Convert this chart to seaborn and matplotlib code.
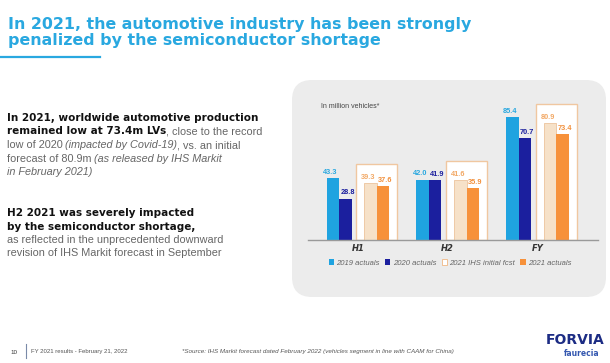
import pandas as pd
import seaborn as sns
import matplotlib.pyplot as plt
from matplotlib.patches import FancyBboxPatch, Patch
from matplotlib.transforms import IdentityTransform

# chart values (million vehicles)
periods = ['H1', 'H2', 'FY']
series = ['2019 actuals', '2020 actuals', '2021 IHS initial fcst', '2021 actuals']
actuals_2019 = [43.3, 42.0, 85.4]
actuals_2020 = [28.8, 41.9, 70.7]
ihs_fcst_2021 = [39.3, 41.6, 80.9]
actuals_2021 = [37.6, 35.9, 73.4]

# colours
BLUE = '#29a8e0'
bar_colors = {'2019 actuals': '#1fa3e0', '2020 actuals': '#1b1f9e', 'gap': 'none',
              '2021 IHS initial fcst': '#f6e1c8', '2021 actuals': '#f7913a'}
label_colors = {'2019 actuals': '#29a8e0', '2020 actuals': '#1b1f9e',
                '2021 IHS initial fcst': '#f2a865', '2021 actuals': '#f2903c'}
# small sideways nudge of the value labels (points) so neighbours don't collide
label_shift = {'2019 actuals': -1.6, '2020 actuals': 1.6,
               '2021 IHS initial fcst': -1.8, '2021 actuals': 1.8}

W, H = 610, 363
plt.rcParams['font.family'] = ['DejaVu Sans']
fig = plt.figure(figsize=(W / 100, H / 100), dpi=100)
fig.patch.set_facecolor('white')

# long-form table, with an empty hue level to leave the gap between 2020 and 2021 bars
hue_order = ['2019 actuals', '2020 actuals', 'gap', '2021 IHS initial fcst', '2021 actuals']
rows = []
for i, p in enumerate(periods):
    rows.append((p, '2019 actuals', actuals_2019[i]))
    rows.append((p, '2020 actuals', actuals_2020[i]))
    rows.append((p, 'gap', 0.0))
    rows.append((p, '2021 IHS initial fcst', ihs_fcst_2021[i]))
    rows.append((p, '2021 actuals', actuals_2021[i]))
df = pd.DataFrame(rows, columns=['Period', 'Series', 'Value'])

# grey rounded panel behind the chart
panel = FancyBboxPatch((292 + 20, H - 297 + 20), 314 - 40, 217 - 40,
                       boxstyle='round,pad=20', transform=IdentityTransform(),
                       facecolor='#ececec', edgecolor='none', zorder=-5)
fig.add_artist(panel)

ax = fig.add_axes([308 / W, 1 - 240 / H, 290 / W, 140 / H])
ax.set_facecolor('none')
sns.barplot(data=df, x='Period', y='Value', hue='Series', order=periods,
            hue_order=hue_order, palette=bar_colors, width=0.7, linewidth=0,
            saturation=1, legend=False, ax=ax)
bar_containers = list(ax.containers)

# outline boxes around the 2021 pairs
for i in range(len(periods)):
    top = max(ihs_fcst_2021[i], actuals_2021[i]) + 13.4
    ax.bar(i + 0.21, top, width=0.46, facecolor='white', edgecolor='#f0c7a0',
           linewidth=1, zorder=1)

for cont, name in zip(bar_containers, hue_order):
    for bar in cont:
        bar.set_zorder(2)
    if name == 'gap':
        continue
    if name == '2021 IHS initial fcst':
        for bar in cont:
            bar.set_edgecolor('#ecc39c')
            bar.set_linewidth(0.6)
    vals = df[df['Series'] == name]['Value'].tolist()
    anns = ax.bar_label(cont, labels=[f'{v:.1f}' for v in vals], padding=1.5,
                        fontsize=5.3, fontweight='bold', family='Liberation Sans',
                        color=label_colors[name])
    for a in anns:
        a.xyann = (label_shift[name], 1.5)

ax.set_xlim(-0.557, 2.674)
ax.set_ylim(0, 97.2)
ax.set_xlabel('')
ax.set_ylabel('')
ax.set_yticks([])
for s in ['top', 'right', 'left']:
    ax.spines[s].set_visible(False)
ax.spines['bottom'].set_color('#9a9a9a')
ax.spines['bottom'].set_linewidth(1)
ax.tick_params(axis='x', length=0, pad=3)
for lab in ax.get_xticklabels():
    lab.set_fontsize(6)
    lab.set_fontweight('bold')
    lab.set_fontstyle('italic')
    lab.set_color('#333333')

handles = [Patch(facecolor='#1fa3e0'), Patch(facecolor='#1b1f9e'),
           Patch(facecolor='white', edgecolor='#f0b884', linewidth=0.6),
           Patch(facecolor='#f7913a')]
ax.legend(handles, series, loc='center', bbox_to_anchor=(450 / W, 1 - 263 / H),
          bbox_transform=fig.transFigure, ncol=4, frameon=False,
          prop={'family': 'Liberation Sans', 'style': 'italic', 'size': 5.5},
          labelcolor='#666666', handlelength=0.7, handleheight=0.7,
          handletextpad=0.3, columnspacing=0.7)

fig.text(321 / W, 1 - 107 / H, 'In million vehicles*', fontsize=5, color='#444444',
         family='Liberation Sans', va='center')

# title
fig.text(8 / W, 1 - 29 / H, 'In 2021, the automotive industry has been strongly',
         fontsize=11.4, fontweight='bold', color=BLUE, va='baseline')
fig.text(8 / W, 1 - 45 / H, 'penalized by the semiconductor shortage',
         fontsize=11.4, fontweight='bold', color=BLUE, va='baseline')
fig.add_artist(plt.Line2D([0, 100 / W], [1 - 57 / H, 1 - 57 / H], color=BLUE,
                          linewidth=1.6, transform=fig.transFigure))

# left paragraph with mixed styles
renderer = fig.canvas.get_renderer()
styles = {
    'b': dict(family='DejaVu Sans', fontweight='bold', color='#111111', fontsize=7.5),
    'n': dict(family='Liberation Sans', color='#666666', fontsize=7.8),
    'i': dict(family='Liberation Sans', style='italic', color='#666666', fontsize=7.8),
}


def put_runs(x, y, parts):
    for txt, st, gap in parts:
        t = fig.text(x / W, 1 - y / H, txt, va='baseline', ha='left', **styles[st])
        x += t.get_window_extent(renderer).width + gap


SP = 2.2
lines = [
    (121, [('In 2021, worldwide automotive production', 'b', 0)]),
    (134.5, [('remained low at 73.4m LVs', 'b', 0), (', close to the record', 'n', 0)]),
    (148, [('low of 2020', 'n', SP), ('(impacted by Covid-19)', 'i', 0), (', vs. an initial', 'n', 0)]),
    (161.5, [('forecast of 80.9m', 'n', SP), ('(as released by IHS Markit', 'i', 0)]),
    (175, [('in February 2021)', 'i', 0)]),
    (216.5, [('H2 2021 was severely impacted', 'b', 0)]),
    (229.5, [('by the semiconductor shortage,', 'b', 0)]),
    (243, [('as reflected in the unprecedented downward', 'n', 0)]),
    (256, [('revision of IHS Markit forecast in September', 'n', 0)]),
]
for y, parts in lines:
    put_runs(7, y, parts)

# footer
fig.text(10 / W, 1 - 352 / H, '10', fontsize=4.5, color='#333333', va='center',
         family='Liberation Sans')
fig.add_artist(plt.Line2D([26 / W, 26 / W], [1 - 344 / H, 1 - 358 / H], color='#7a8aa8',
                          linewidth=0.8, transform=fig.transFigure))
fig.text(31 / W, 1 - 352 / H, 'FY 2021 results - February 21, 2022', fontsize=4.3,
         color='#555555', va='center', family='Liberation Sans')
fig.text(182 / W, 1 - 352 / H,
         '*Source: IHS Markit forecast dated February 2022 (vehicles segment in line with CAAM for China)',
         fontsize=4.5, color='#555555', va='center', family='Liberation Sans', style='italic')
fig.text(575 / W, 1 - 340 / H, 'FORVIA', fontsize=10, fontweight='bold', color='#1c2c84',
         ha='center', va='center')
fig.text(600 / W, 1 - 354 / H, 'faurecia', fontsize=5.5, fontweight='bold', color='#3558b0',
         ha='right', va='center')

fig.savefig('out.png', dpi=100)
